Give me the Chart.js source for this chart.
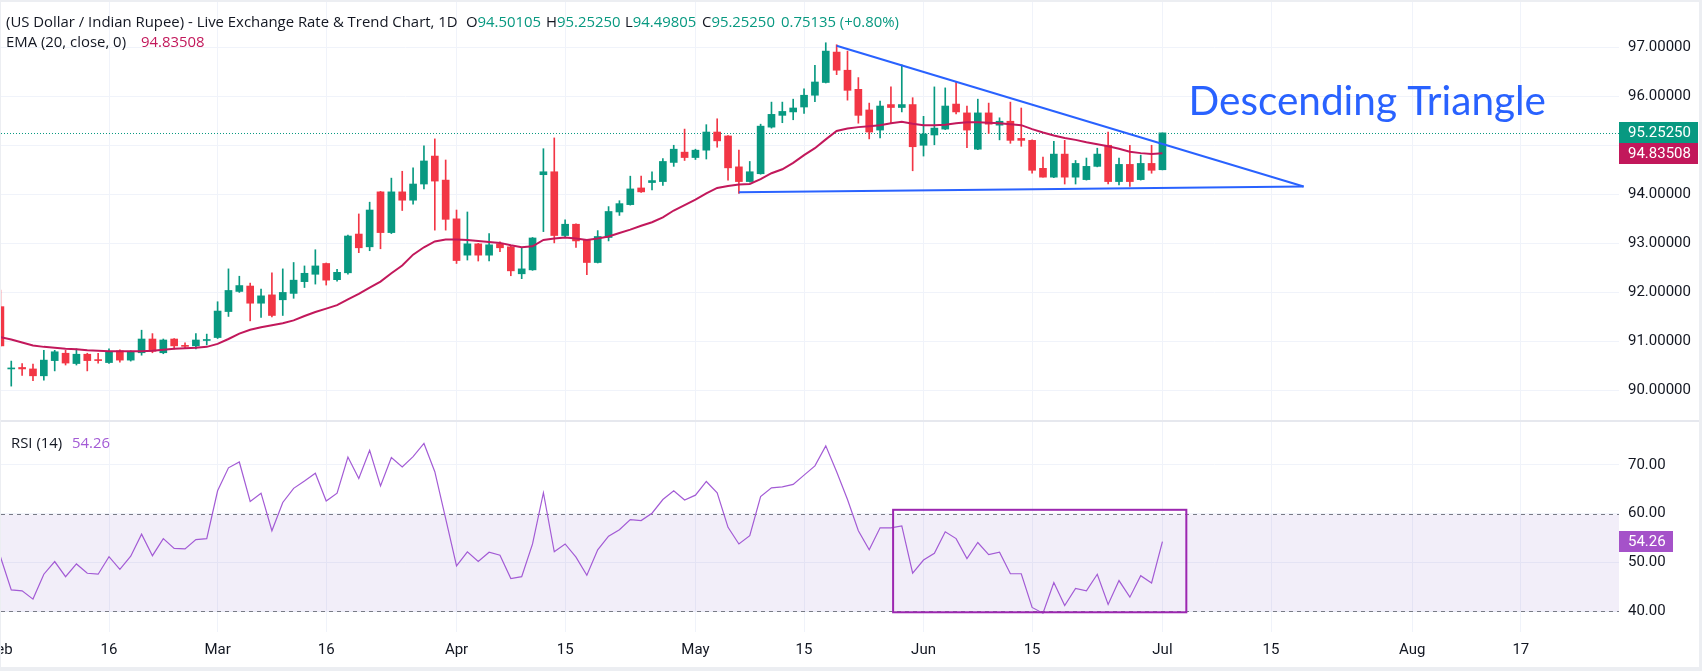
<!DOCTYPE html>
<html>
<head>
<meta charset="utf-8">
<script src="https://cdn.jsdelivr.net/npm/chart.js@4.4.1/dist/chart.umd.min.js"></script>
<style>
  html, body { margin: 0; padding: 0; background: #eceef2; }
  #frame { position: relative; width: 1702px; height: 671px; background: #eceef2; overflow: hidden; }
  #inner { position: absolute; left: 1px; top: 2px; width: 1698px; height: 665px; background: #fff; }
  canvas { position: absolute; left: 1px; }
  #price { top: 2px; }
  #rsi { top: 422px; }
  #sep { position: absolute; left: 1px; top: 420px; width: 1698px; height: 2px; background: #e6e8ee; }
  .lg { position: absolute; font-family: "Open Sans", sans-serif; font-size: 14.9px; color: #131722; white-space: nowrap; line-height: 18px; }
  .up { color: #089981; }
  .ema { color: #c2185b; }
  .rsiv { color: #a35bd5; }
</style>
</head>
<body>
<div id="frame">
  <div id="inner"></div>
  <canvas id="price" width="1698" height="418"></canvas>
  <div id="sep"></div>
  <canvas id="rsi" width="1698" height="245"></canvas>
  <div class="lg" style="left:6px; top:12px;">(US Dollar / Indian Rupee) - Live Exchange Rate &amp; Trend Chart, 1D</div>
  <div class="lg" style="left:466px; top:12px;">O<span class="up">94.50105</span></div>
  <div class="lg" style="left:546px; top:12px;">H<span class="up">95.25250</span></div>
  <div class="lg" style="left:625px; top:12px;">L<span class="up">94.49805</span></div>
  <div class="lg" style="left:702px; top:12px;">C<span class="up">95.25250</span></div>
  <div class="lg up" style="left:781px; top:12px;">0.75135 (+0.80%)</div>
  <div class="lg" style="left:6px; top:32px;">EMA (20, close, 0)</div>
  <div class="lg ema" style="left:141px; top:32px;">94.83508</div>
  <div class="lg" style="left:11px; top:433px;">RSI (14)</div>
  <div class="lg rsiv" style="left:72px; top:433px;">54.26</div>
</div>
<script>
// daily bars, Feb 2 .. Jul 1 (index 0 .. 107)
const opens = [91.71,90.44,90.47,90.44,90.30,90.61,90.76,90.55,90.74,90.63,
  90.57,90.81,90.62,90.77,91.05,90.77,91.05,90.92,90.91,91.02,
  91.08,91.61,92.02,92.13,91.78,91.95,91.85,91.98,92.22,92.37,
  92.59,92.26,92.40,93.19,92.93,94.05,93.22,94.05,93.88,94.21,
  94.78,94.29,93.50,92.76,92.99,92.76,92.99,92.93,92.38,92.46,
  94.40,94.46,93.16,93.39,93.07,92.61,93.12,93.64,93.79,94.13,
  94.24,94.26,94.65,94.86,94.75,94.90,95.27,95.19,94.56,94.26,
  94.42,95.37,95.61,95.68,95.78,96.02,96.28,96.90,96.53,96.14,
  95.72,95.31,95.83,95.77,95.83,95.00,95.21,95.33,95.84,95.66,
  94.92,95.66,95.41,95.49,95.14,95.10,94.53,94.35,94.82,94.35,
  94.30,94.57,95.00,94.26,94.61,94.30,94.63,94.50105];
const highs = [92.05,90.60,90.55,90.54,90.82,90.82,90.82,90.85,90.76,90.76,
  90.85,90.83,90.81,91.23,91.16,91.05,91.06,90.97,91.16,91.15,
  91.81,92.48,92.33,92.19,92.07,92.40,92.48,92.61,92.54,92.87,
  92.60,92.47,93.17,93.60,93.84,94.06,94.33,94.47,94.54,94.99,
  95.13,94.70,93.68,93.64,93.00,93.20,93.03,92.94,92.91,93.12,
  94.93,95.15,93.48,93.40,93.08,93.26,93.75,93.87,94.37,94.37,
  94.46,94.73,95.00,95.33,94.92,95.42,95.54,95.20,94.90,94.67,
  95.43,95.88,95.88,95.94,96.15,96.63,97.09,97.05,96.92,96.38,
  95.86,95.90,96.19,96.64,95.97,95.59,96.19,96.17,96.29,95.80,
  95.94,95.86,95.56,95.88,95.76,95.11,94.76,95.08,95.10,94.69,
  94.74,94.94,95.27,94.74,95.00,94.80,95.00,95.2525];
const lows = [90.90,90.09,90.31,90.20,90.21,90.40,90.52,90.52,90.40,90.56,
  90.55,90.58,90.60,90.72,90.77,90.75,90.85,90.86,90.85,90.93,
  91.06,91.51,92.00,91.42,91.49,91.50,91.53,91.88,92.10,92.17,
  92.15,92.23,92.37,92.81,92.85,92.89,93.20,93.67,93.80,94.11,
  93.27,93.27,92.59,92.66,92.64,92.64,92.83,92.34,92.28,92.45,
  93.24,93.01,93.12,92.92,92.36,92.60,93.05,93.57,93.78,94.04,
  94.09,94.18,94.57,94.69,94.71,94.72,94.96,94.29,94.02,94.25,
  94.41,95.35,95.46,95.52,95.65,95.89,96.27,96.44,95.92,95.45,
  95.13,95.15,95.45,95.68,94.48,94.78,95.01,95.32,95.64,94.95,
  94.91,95.24,95.11,95.04,94.98,94.43,94.35,94.34,94.21,94.21,
  94.29,94.56,94.21,94.19,94.16,94.29,94.43,94.49805];
const closes = [90.91,90.46,90.44,90.30,90.62,90.79,90.56,90.74,90.61,90.61,
  90.79,90.62,90.79,91.05,90.80,91.03,90.91,90.90,91.03,91.04,
  91.62,92.04,92.14,91.78,91.93,91.53,92.00,92.25,92.39,92.54,
  92.25,92.41,93.15,92.91,93.68,93.22,94.05,93.88,94.21,94.68,
  94.27,93.49,92.65,92.99,92.76,92.97,92.91,92.44,92.48,93.11,
  94.46,93.16,93.39,93.05,92.61,93.14,93.65,93.81,94.11,94.05,
  94.28,94.67,94.92,94.75,94.90,95.27,95.09,94.54,94.26,94.46,
  95.39,95.63,95.69,95.76,96.02,96.29,96.92,96.53,96.12,95.61,
  95.27,95.80,95.77,95.83,94.97,95.23,95.35,95.80,95.68,95.31,
  95.66,95.43,95.49,95.10,95.10,94.49,94.35,94.82,94.35,94.63,
  94.57,94.82,94.26,94.61,94.26,94.63,94.49,95.2525];
const ema20 = [91.09,91.04,90.98,90.92,90.89,90.87,90.85,90.84,90.82,90.81,
  90.80,90.80,90.80,90.80,90.81,90.83,90.85,90.86,90.87,90.89,
  90.95,91.05,91.16,91.24,91.29,91.33,91.37,91.43,91.52,91.60,
  91.67,91.74,91.86,91.97,92.10,92.22,92.39,92.55,92.77,92.92,
  93.04,93.08,93.08,93.07,93.05,93.03,93.01,92.96,92.92,92.94,
  93.07,93.10,93.12,93.10,93.07,93.10,93.14,93.21,93.28,93.36,
  93.43,93.53,93.67,93.78,93.89,94.02,94.13,94.17,94.20,94.21,
  94.31,94.43,94.51,94.64,94.80,94.94,95.12,95.29,95.34,95.37,
  95.39,95.41,95.45,95.48,95.44,95.41,95.41,95.42,95.45,95.47,
  95.47,95.46,95.45,95.43,95.41,95.33,95.26,95.20,95.15,95.11,
  95.06,95.02,94.98,94.93,94.87,94.84,94.82,94.835];
const rsi14 = [51.2,44.4,44.2,42.5,47.6,50.2,47.1,49.7,47.8,47.6,
  51.2,48.6,51.3,55.8,51.4,54.9,52.9,52.8,54.7,54.9,
  64.7,69.4,70.6,62.5,64.2,56.5,62.3,65.2,66.7,68.3,
  62.6,64.2,71.6,67.2,73.0,65.7,71.5,69.6,71.7,74.4,
  68.6,59.0,49.3,52.2,50.2,52.1,51.5,46.7,47.1,53.8,
  64.3,52.2,53.8,51.1,47.4,52.6,55.4,56.7,58.8,58.6,
  60.1,62.9,64.7,62.8,63.8,66.6,64.3,57.2,53.8,55.5,
  63.5,65.3,65.5,66.0,67.9,69.8,73.9,68.6,62.9,56.5,
  52.6,57.1,57.1,57.5,47.8,50.5,51.9,56.3,54.9,50.8,
  54.1,51.6,52.1,47.7,47.7,40.8,39.6,45.9,41.2,44.7,
  44.2,47.6,41.4,46.3,42.9,47.3,45.8,54.26];

// axis ticks
const tickIndex = [0, 10, 20, 30, 42, 52, 64, 74, 85, 95, 107, 117, 130, 140];
const tickLabels = ['Feb', '16', 'Mar', '16', 'Apr', '15', 'May', '15', 'Jun', '15', 'Jul', '15', 'Aug', '17'];
const priceTicks = [90, 91, 92, 93, 94, 95, 96, 97];
const rsiTicks = [40, 50, 60, 70];

// last values shown in the tags
const lastClose = 95.2525;
const lastEma = 94.83508;
const lastRsi = 54.26;

// drawings: triangle lines, label, rsi box
const triUpperX = [77, 120];
const triUpperY = [97.03, 94.16];
const triLowerX = [68, 120];
const triLowerY = [94.04, 94.16];
const triLabel = 'Descending Triangle';
const triLabelPos = [109.4, 95.62];
const rsiBoxX = [82.2, 109.2];
const rsiBoxY = [39.8, 60.8];

const GREEN = '#089981';
const RED = '#f23645';
const GRID = '#f0f3fa';
const FONT = 'Roboto, sans-serif';

const candleColor = ctx => closes[ctx.dataIndex] >= opens[ctx.dataIndex] ? GREEN : RED;

function xScale(showLabels) {
  return {
    type: 'linear',
    min: 0.055,
    max: 149.04,
    offset: false,
    afterBuildTicks: s => { s.ticks = tickIndex.map(v => ({ value: v })); },
    afterFit: s => {
      s.paddingLeft = 0;
      s.paddingRight = 0;
      s.height = showLabels ? 35 : 0;
    },
    ticks: {
      display: showLabels,
      autoSkip: false,
      maxRotation: 0,
      padding: 9,
      color: '#131722',
      font: { family: FONT, size: 15 },
      callback: v => tickLabels[tickIndex.indexOf(v)]
    },
    grid: { color: GRID, drawTicks: false, offset: false },
    border: { display: false }
  };
}

function yScale(min, max, ticks, digits) {
  return {
    type: 'linear',
    position: 'right',
    min: min,
    max: max,
    afterBuildTicks: s => { s.ticks = ticks.map(v => ({ value: v })); },
    afterFit: s => { s.width = 80; s.paddingTop = 0; s.paddingBottom = 0; },
    ticks: {
      padding: 9,
      color: '#131722',
      font: { family: FONT, size: 15 },
      callback: v => v.toFixed(digits)
    },
    grid: { color: GRID, drawTicks: false },
    border: { display: false }
  };
}

function drawTag(chart, value, color, text, w) {
  const { ctx, chartArea } = chart;
  const y = chart.scales.y.getPixelForValue(value);
  ctx.save();
  ctx.fillStyle = color;
  ctx.fillRect(chartArea.right, Math.round(y - 10.5), w, 21);
  ctx.fillStyle = '#ffffff';
  ctx.font = '15px ' + FONT;
  ctx.textBaseline = 'middle';
  ctx.fillText(text, chartArea.right + 9, y + 0.5);
  ctx.restore();
}

const pricePlugin = {
  id: 'priceExtras',
  beforeDatasetsDraw(chart) {
    const { ctx, chartArea } = chart;
    const y = Math.round(chart.scales.y.getPixelForValue(lastClose)) + 0.5;
    ctx.save();
    ctx.strokeStyle = GREEN;
    ctx.lineWidth = 1;
    ctx.setLineDash([1, 2]);
    ctx.beginPath();
    ctx.moveTo(chartArea.left, y);
    ctx.lineTo(chartArea.right, y);
    ctx.stroke();
    ctx.restore();
  },
  afterDatasetsDraw(chart) {
    const { ctx } = chart;
    ctx.save();
    ctx.fillStyle = '#2962ff';
    ctx.font = '40.5px Lato, ' + FONT;
    ctx.textBaseline = 'alphabetic';
    ctx.fillText(triLabel, chart.scales.x.getPixelForValue(triLabelPos[0]), chart.scales.y.getPixelForValue(triLabelPos[1]));
    ctx.restore();
  },
  afterDraw(chart) {
    drawTag(chart, lastClose, GREEN, lastClose.toFixed(5), 79);
    drawTag(chart, lastEma, '#c2185b', lastEma.toFixed(5), 79);
  }
};

new Chart(document.getElementById('price'), {
  data: {
    datasets: [
      {
        type: 'bar', label: 'wicks',
        data: lows.map((l, i) => ({ x: i, y: [l, highs[i]] })),
        backgroundColor: candleColor, barThickness: 1, grouped: false, order: 4
      },
      {
        type: 'bar', label: 'bodies',
        data: opens.map((o, i) => ({ x: i, y: [o, closes[i]] })),
        backgroundColor: candleColor, barThickness: 7, minBarLength: 1, grouped: false, order: 3
      },
      {
        type: 'line', label: 'EMA 20',
        data: ema20.map((v, i) => ({ x: i, y: v })),
        borderColor: '#c2185b', borderWidth: 2, pointRadius: 0, order: 2
      },
      {
        type: 'line', label: 'upper',
        data: triUpperX.map((x, i) => ({ x: x, y: triUpperY[i] })),
        borderColor: '#2962ff', borderWidth: 2, pointRadius: 0, order: 1
      },
      {
        type: 'line', label: 'lower',
        data: triLowerX.map((x, i) => ({ x: x, y: triLowerY[i] })),
        borderColor: '#2962ff', borderWidth: 2, pointRadius: 0, order: 1
      }
    ]
  },
  options: {
    responsive: false,
    animation: false,
    devicePixelRatio: 1,
    events: [],
    layout: { padding: 0 },
    plugins: { legend: { display: false }, tooltip: { enabled: false } },
    scales: {
      x: xScale(false),
      y: yScale(89.399, 97.921, priceTicks, 5)
    }
  },
  plugins: [pricePlugin]
});

const rsiPlugin = {
  id: 'rsiExtras',
  beforeDatasetsDraw(chart) {
    const { ctx, chartArea } = chart;
    const ys = chart.scales.y;
    const y60 = Math.round(ys.getPixelForValue(60)) + 0.5;
    const y40 = Math.round(ys.getPixelForValue(40)) + 0.5;
    ctx.save();
    ctx.fillStyle = 'rgba(126, 87, 194, 0.1)';
    ctx.fillRect(chartArea.left, y60, chartArea.right - chartArea.left, y40 - y60);
    ctx.strokeStyle = '#787b86';
    ctx.lineWidth = 1;
    ctx.setLineDash([4, 4]);
    ctx.beginPath();
    ctx.moveTo(chartArea.left, y60); ctx.lineTo(chartArea.right, y60);
    ctx.moveTo(chartArea.left, y40); ctx.lineTo(chartArea.right, y40);
    ctx.stroke();
    ctx.restore();
  },
  afterDatasetsDraw(chart) {
    const { ctx } = chart;
    const xs = chart.scales.x, ys = chart.scales.y;
    const x0 = xs.getPixelForValue(rsiBoxX[0]), x1 = xs.getPixelForValue(rsiBoxX[1]);
    const y0 = ys.getPixelForValue(rsiBoxY[1]), y1 = ys.getPixelForValue(rsiBoxY[0]);
    ctx.save();
    ctx.strokeStyle = '#9c27b0';
    ctx.lineWidth = 2;
    ctx.strokeRect(x0, y0, x1 - x0, y1 - y0);
    ctx.restore();
  },
  afterDraw(chart) {
    drawTag(chart, lastRsi, '#a552c9', lastRsi.toFixed(2), 54);
  }
};

new Chart(document.getElementById('rsi'), {
  data: {
    datasets: [
      {
        type: 'line', label: 'RSI 14',
        data: rsi14.map((v, i) => ({ x: i, y: v })),
        borderColor: '#a35bd5', borderWidth: 1.2, pointRadius: 0
      }
    ]
  },
  options: {
    responsive: false,
    animation: false,
    devicePixelRatio: 1,
    events: [],
    layout: { padding: 0 },
    plugins: { legend: { display: false }, tooltip: { enabled: false } },
    scales: {
      x: xScale(true),
      y: yScale(35.76, 78.79, rsiTicks, 2)
    }
  },
  plugins: [rsiPlugin]
});
</script>
</body>
</html>
